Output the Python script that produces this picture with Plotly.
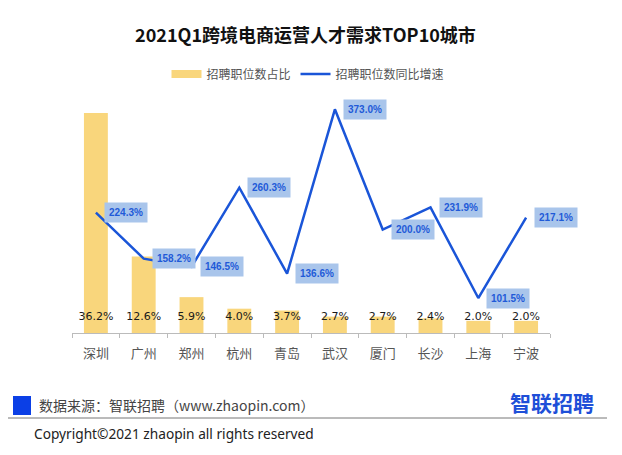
import plotly.graph_objects as go

cities = ["深圳", "广州", "郑州", "杭州", "青岛", "武汉", "厦门", "长沙", "上海", "宁波"]
share = [36.2, 12.6, 5.9, 4.0, 3.7, 2.7, 2.7, 2.4, 2.0, 2.0]
growth = [224.3, 158.2, 146.5, 260.3, 136.6, 373.0, 200.0, 231.9, 101.5, 217.1]

BAR_COLOR = "#F9D67C"
LINE_COLOR = "#1A55D8"

# the page puts the figure 8px in from the top-left corner
OFF = 8
W, H = 622 - 2 * OFF, 455 - 2 * OFF
# plot area in page pixels: x 72..550, y 100..333
L, R, T, B = 72 - OFF, 550 - OFF, 100 - OFF, 333 - OFF


def px(x):
    return (x - OFF - L) / (R - L)


def py(y):
    return (B - (y - OFF)) / (B - T)


fig = go.Figure()

fig.add_trace(go.Bar(
    x=cities, y=share, width=0.5,
    marker=dict(color=BAR_COLOR, line=dict(width=0)),
    showlegend=False, hoverinfo="skip",
))

# bar value labels near the bottom of each bar
fig.add_trace(go.Scatter(
    x=cities, y=[2.6] * len(cities), mode="text",
    text=[f"{v:.1f}%" for v in share],
    textfont=dict(family="DejaVu Sans", size=11, color="#1a1a1a"),
    showlegend=False, hoverinfo="skip",
))

fig.add_trace(go.Scatter(
    x=cities, y=growth, yaxis="y2", mode="lines",
    line=dict(color=LINE_COLOR, width=2.5),
    showlegend=False, hoverinfo="skip",
))

# legend entries (no points drawn)
fig.add_trace(go.Scatter(
    x=[cities[0]], y=[None], mode="lines", name="招聘职位数占比",
    line=dict(color=BAR_COLOR, width=8),
))
fig.add_trace(go.Scatter(
    x=[cities[0]], y=[None], mode="lines", name="招聘职位数同比增速",
    line=dict(color=LINE_COLOR, width=2.5),
))

annotations = []
for c, g in zip(cities, growth):
    annotations.append(dict(
        x=c, y=g, xref="x", yref="y2", text=f"{g:.1f}%",
        showarrow=False, xanchor="left", yanchor="middle", xshift=8,
        bgcolor="#A9C5EB", borderpad=4,
        font=dict(family="Liberation Sans", size=10, color="#1F5AD8", weight="bold"),
    ))

annotations += [
    dict(x=px(37), y=py(405), xref="paper", yref="paper", showarrow=False,
         xanchor="left", yanchor="middle",
         text="数据来源：智联招聘（www.zhaopin.com）",
         font=dict(family="Noto Sans CJK SC", size=14, color="#444444")),
    dict(x=px(32), y=py(433), xref="paper", yref="paper", showarrow=False,
         xanchor="left", yanchor="middle",
         text="Copyright©2021 zhaopin all rights reserved",
         font=dict(family="Noto Sans", size=13.7, color="#222222")),
    dict(x=px(508), y=py(402), xref="paper", yref="paper", showarrow=False,
         xanchor="left", yanchor="middle", text="<b>智联招聘</b>",
         font=dict(family="Noto Sans CJK SC", size=21, color="#1E4FD8")),
]

shapes = [
    dict(type="rect", xref="paper", yref="paper",
         x0=px(13), x1=px(31), y0=py(396), y1=py(415),
         fillcolor="#0B3FE6", line=dict(width=0)),
    dict(type="line", xref="paper", yref="paper",
         x0=px(8), x1=px(607), y0=py(418), y1=py(418),
         line=dict(color="#777777", width=1)),
]

fig.update_layout(
    width=W, height=H,
    margin=dict(l=L, r=W - R, t=T, b=H - B),
    paper_bgcolor="white", plot_bgcolor="white",
    title=dict(text="<b>2021Q1跨境电商运营人才需求TOP10城市</b>",
               x=(305.5 - OFF) / W, xref="container", xanchor="center",
               y=1 - (36 - OFF) / H, yref="container", yanchor="middle",
               font=dict(family="Noto Sans CJK SC", size=18, color="#111111")),
    legend=dict(orientation="h", x=px(308), xanchor="center", y=py(74), yanchor="middle",
                font=dict(family="Noto Sans CJK SC", size=12, color="#555555"),
                itemwidth=30, bgcolor="rgba(0,0,0,0)"),
    xaxis=dict(type="category", categoryorder="array", categoryarray=cities,
               range=[-0.5, len(cities) - 0.5],
               showline=True, linecolor="#BBBBBB", linewidth=1,
               ticks="outside", ticklen=4, tickcolor="#BBBBBB", tickson="boundaries",
               ticklabelstandoff=8, showgrid=False,
               tickfont=dict(family="Noto Sans CJK SC", size=13, color="#555555")),
    yaxis=dict(range=[0, 38.34], visible=False, showgrid=False),
    yaxis2=dict(range=[51.2, 386.4], overlaying="y", visible=False, showgrid=False),
    annotations=annotations,
    shapes=shapes,
)

fig.write_html("out.html")
